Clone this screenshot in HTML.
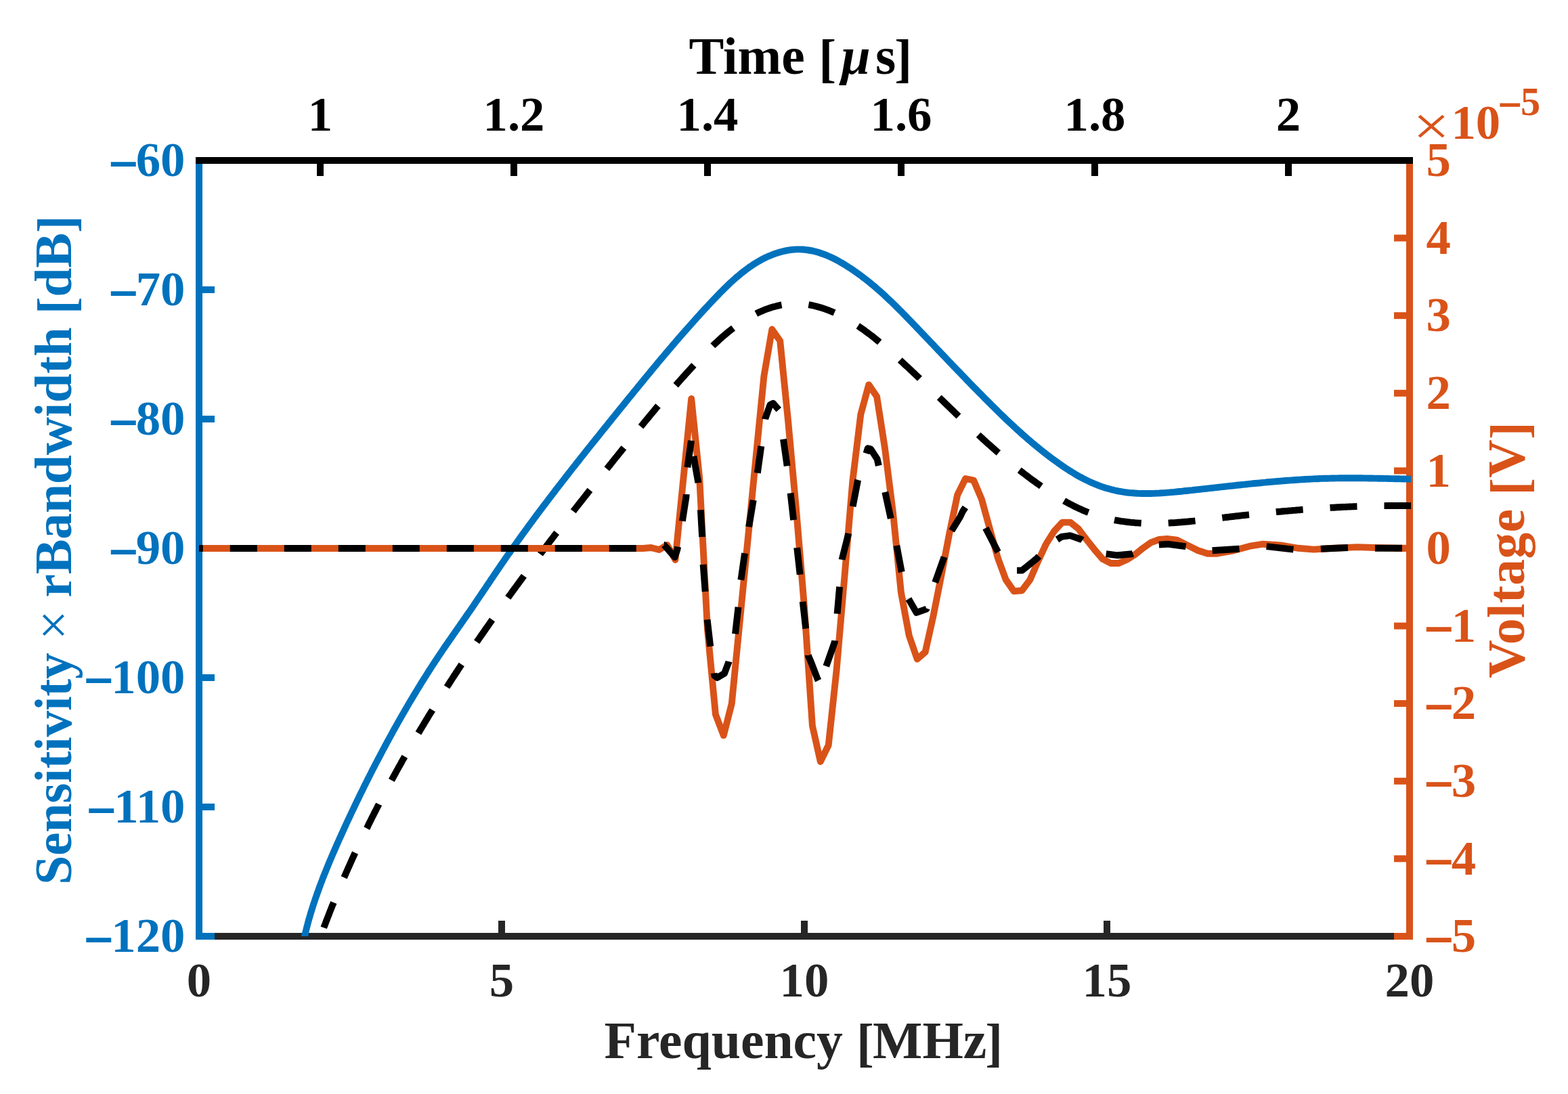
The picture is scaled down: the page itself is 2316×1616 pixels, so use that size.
<!DOCTYPE html>
<html><head><meta charset="utf-8"><title>Sensitivity and Voltage</title><style>html,body{margin:0;padding:0;background:#fff;overflow:hidden}svg{display:block}</style></head><body>
<svg width="2316" height="1616" viewBox="0 0 2316 1616">
<rect width="2316" height="1616" fill="#fff"/>
<defs><clipPath id="cf"><rect x="294.0" y="237.0" width="1790.1999999999998" height="1146.0"/></clipPath><clipPath id="ct"><rect x="294.0" y="237.0" width="1788.0" height="1146.0"/></clipPath></defs>
<g fill="#262626"><rect x="289" y="1378" width="1798" height="10"/>
<rect x="736.0" y="1360" width="10" height="28"/>
<rect x="1183.0" y="1360" width="10" height="28"/>
<rect x="1630.0" y="1360" width="10" height="28"/>
</g>
<g fill="#D95319"><rect x="2077" y="232" width="10" height="1156"/>
<rect x="2059" y="1378.0" width="28" height="10"/>
<rect x="2059" y="1263.4" width="28" height="10"/>
<rect x="2059" y="1148.8" width="28" height="10"/>
<rect x="2059" y="1034.2" width="28" height="10"/>
<rect x="2059" y="919.6" width="28" height="10"/>
<rect x="2059" y="805.0" width="28" height="10"/>
<rect x="2059" y="690.4" width="28" height="10"/>
<rect x="2059" y="575.8" width="28" height="10"/>
<rect x="2059" y="461.2" width="28" height="10"/>
<rect x="2059" y="346.6" width="28" height="10"/>
<rect x="2059" y="232.0" width="28" height="10"/>
</g>
<g fill="#0072BD"><rect x="289" y="232" width="10" height="1156"/>
<rect x="289" y="232.0" width="28" height="10"/>
<rect x="289" y="423.0" width="28" height="10"/>
<rect x="289" y="614.0" width="28" height="10"/>
<rect x="289" y="805.0" width="28" height="10"/>
<rect x="289" y="996.0" width="28" height="10"/>
<rect x="289" y="1187.0" width="28" height="10"/>
<rect x="289" y="1378.0" width="28" height="10"/>
</g>
<g clip-path="url(#cf)" fill="none" stroke-width="9.9" stroke-linejoin="round">
<path d="M446.9 1396.3 L450.0 1382.7 L450.7 1379.8 L451.4 1376.9 L452.1 1374.1 L452.8 1371.2 L453.5 1368.3 L454.3 1365.5 L455.0 1362.6 L455.8 1359.7 L456.6 1356.9 L457.5 1354.0 L458.3 1351.2 L459.1 1348.3 L460.0 1345.5 L460.9 1342.6 L461.8 1339.8 L462.7 1336.9 L463.6 1334.1 L464.6 1331.3 L465.5 1328.4 L466.5 1325.6 L467.5 1322.8 L468.5 1319.9 L469.5 1317.1 L470.5 1314.3 L471.5 1311.5 L472.6 1308.6 L473.6 1305.8 L474.7 1303.0 L475.8 1300.2 L476.8 1297.4 L477.9 1294.6 L479.0 1291.8 L480.2 1289.0 L481.3 1286.2 L482.4 1283.4 L483.6 1280.6 L484.7 1277.8 L485.9 1275.0 L487.0 1272.2 L488.2 1269.4 L489.4 1266.6 L490.6 1263.8 L491.8 1261.1 L493.0 1258.3 L494.2 1255.5 L495.4 1252.7 L496.6 1250.0 L497.8 1247.2 L499.1 1244.4 L500.3 1241.7 L501.5 1238.9 L502.8 1236.2 L504.0 1233.4 L505.3 1230.6 L506.5 1227.9 L507.8 1225.1 L509.0 1222.4 L510.3 1219.7 L511.5 1216.9 L512.8 1214.2 L514.1 1211.4 L515.4 1208.7 L516.6 1206.0 L517.9 1203.3 L519.2 1200.5 L520.5 1197.8 L521.8 1195.1 L523.1 1192.4 L524.4 1189.6 L525.7 1186.9 L527.0 1184.2 L528.3 1181.5 L529.6 1178.8 L530.9 1176.1 L532.2 1173.4 L533.5 1170.7 L534.9 1168.0 L536.2 1165.3 L537.5 1162.6 L538.8 1159.9 L540.2 1157.2 L541.5 1154.6 L542.9 1151.9 L544.2 1149.2 L545.6 1146.5 L546.9 1143.9 L548.3 1141.2 L549.6 1138.5 L551.0 1135.8 L552.4 1133.2 L553.8 1130.5 L555.1 1127.9 L556.5 1125.2 L557.9 1122.6 L559.3 1119.9 L560.7 1117.3 L562.1 1114.6 L563.5 1112.0 L564.9 1109.3 L566.3 1106.7 L567.7 1104.1 L569.1 1101.4 L570.5 1098.8 L571.9 1096.2 L573.4 1093.5 L574.8 1090.9 L576.2 1088.3 L577.7 1085.7 L579.1 1083.1 L580.5 1080.4 L582.0 1077.8 L583.4 1075.2 L584.9 1072.6 L586.4 1070.0 L587.8 1067.4 L589.3 1064.8 L590.8 1062.2 L592.2 1059.6 L593.7 1057.0 L595.2 1054.5 L596.7 1051.9 L598.2 1049.3 L599.7 1046.7 L601.2 1044.1 L602.7 1041.5 L604.2 1039.0 L605.7 1036.4 L607.3 1033.8 L608.8 1031.3 L610.3 1028.7 L611.9 1026.1 L613.4 1023.6 L615.0 1021.0 L616.5 1018.5 L618.1 1015.9 L619.7 1013.3 L621.2 1010.8 L622.8 1008.2 L624.4 1005.7 L626.0 1003.1 L627.6 1000.6 L629.2 998.1 L630.8 995.5 L632.4 993.0 L634.0 990.4 L635.7 987.9 L637.3 985.4 L638.9 982.8 L640.6 980.3 L642.2 977.8 L643.9 975.3 L645.6 972.7 L647.2 970.2 L648.9 967.7 L650.6 965.2 L652.3 962.7 L654.0 960.1 L655.7 957.6 L657.4 955.1 L659.1 952.6 L660.9 950.1 L662.6 947.6 L664.3 945.1 L666.1 942.6 L667.8 940.1 L669.5 937.6 L671.3 935.1 L673.0 932.6 L674.8 930.1 L676.5 927.6 L678.3 925.1 L680.0 922.6 L681.7 920.1 L683.5 917.6 L685.2 915.1 L687.0 912.6 L688.7 910.1 L690.4 907.6 L692.1 905.1 L693.9 902.7 L695.6 900.2 L697.3 897.7 L699.0 895.2 L700.7 892.7 L702.3 890.3 L704.0 887.8 L705.7 885.3 L707.4 882.8 L709.1 880.4 L710.7 877.9 L712.4 875.4 L714.0 873.0 L715.7 870.5 L717.4 868.0 L719.0 865.6 L720.7 863.1 L722.3 860.7 L724.0 858.2 L725.6 855.7 L727.3 853.3 L728.9 850.8 L730.6 848.4 L732.3 845.9 L733.9 843.5 L735.6 841.0 L737.3 838.6 L738.9 836.1 L740.6 833.7 L742.3 831.2 L744.0 828.8 L745.7 826.3 L747.3 823.9 L749.0 821.5 L750.7 819.0 L752.5 816.6 L754.2 814.1 L755.9 811.7 L757.6 809.3 L759.3 806.8 L761.1 804.4 L762.8 802.0 L764.5 799.5 L766.3 797.1 L768.0 794.7 L769.8 792.3 L771.5 789.8 L773.3 787.4 L775.0 785.0 L776.8 782.6 L778.6 780.1 L780.3 777.7 L782.1 775.3 L783.9 772.9 L785.7 770.5 L787.4 768.1 L789.2 765.6 L791.0 763.2 L792.8 760.8 L794.6 758.4 L796.4 756.0 L798.2 753.6 L800.0 751.2 L801.8 748.8 L803.7 746.4 L805.5 744.0 L807.3 741.6 L809.1 739.2 L810.9 736.8 L812.8 734.4 L814.6 732.0 L816.4 729.6 L818.3 727.2 L820.1 724.8 L821.9 722.4 L823.8 720.0 L825.6 717.6 L827.5 715.3 L829.3 712.9 L831.2 710.5 L833.0 708.1 L834.9 705.7 L836.7 703.3 L838.6 701.0 L840.4 698.6 L842.3 696.2 L844.2 693.8 L846.0 691.4 L847.9 689.1 L849.8 686.7 L851.6 684.3 L853.5 682.0 L855.4 679.6 L857.2 677.2 L859.1 674.9 L861.0 672.5 L862.9 670.1 L864.7 667.8 L866.6 665.4 L868.5 663.0 L870.4 660.7 L872.3 658.3 L874.1 656.0 L876.0 653.6 L877.9 651.3 L879.8 648.9 L881.7 646.6 L883.6 644.2 L885.5 641.9 L887.3 639.5 L889.2 637.2 L891.1 634.8 L893.0 632.5 L894.9 630.1 L896.8 627.8 L898.7 625.4 L900.5 623.1 L902.4 620.8 L904.3 618.4 L906.2 616.1 L908.1 613.8 L910.0 611.4 L911.9 609.1 L913.7 606.8 L915.6 604.4 L917.5 602.1 L919.4 599.8 L921.3 597.5 L923.2 595.1 L925.0 592.8 L926.9 590.5 L928.8 588.2 L930.7 585.9 L932.6 583.6 L934.5 581.2 L936.3 578.9 L938.2 576.6 L940.1 574.3 L942.0 572.0 L943.9 569.7 L945.8 567.4 L947.6 565.1 L949.5 562.8 L951.4 560.5 L953.3 558.2 L955.2 555.9 L957.1 553.6 L959.0 551.3 L960.9 549.0 L962.8 546.7 L964.7 544.4 L966.6 542.1 L968.5 539.8 L970.4 537.5 L972.3 535.2 L974.2 532.9 L976.1 530.6 L978.1 528.4 L980.0 526.1 L981.9 523.8 L983.8 521.5 L985.8 519.2 L987.7 517.0 L989.6 514.7 L991.6 512.4 L993.5 510.1 L995.5 507.9 L997.4 505.6 L999.4 503.3 L1001.3 501.1 L1003.3 498.8 L1005.3 496.5 L1007.2 494.3 L1009.2 492.0 L1011.2 489.7 L1013.2 487.5 L1015.2 485.2 L1017.2 483.0 L1019.2 480.7 L1021.2 478.5 L1023.2 476.2 L1025.2 474.0 L1027.2 471.7 L1029.2 469.5 L1031.3 467.2 L1033.3 465.0 L1035.3 462.7 L1037.4 460.5 L1039.5 458.2 L1041.5 456.0 L1043.6 453.8 L1045.7 451.5 L1047.7 449.3 L1049.8 447.1 L1051.9 444.8 L1054.0 442.6 L1056.1 440.4 L1058.3 438.2 L1060.4 436.0 L1062.5 433.8 L1064.7 431.6 L1066.8 429.4 L1069.0 427.2 L1071.2 425.1 L1073.4 422.9 L1075.6 420.8 L1077.8 418.7 L1080.0 416.7 L1082.3 414.6 L1084.5 412.6 L1086.8 410.6 L1089.1 408.6 L1091.4 406.7 L1093.7 404.7 L1096.0 402.9 L1098.4 401.0 L1100.8 399.2 L1103.2 397.4 L1105.6 395.6 L1108.0 393.9 L1110.5 392.3 L1112.9 390.6 L1115.4 389.1 L1117.9 387.5 L1120.5 386.0 L1123.0 384.6 L1125.6 383.2 L1128.2 381.8 L1130.8 380.5 L1133.5 379.3 L1136.2 378.1 L1138.9 377.0 L1141.6 375.9 L1144.3 374.9 L1147.1 373.9 L1149.9 373.1 L1152.8 372.2 L1155.6 371.5 L1158.5 370.8 L1161.4 370.2 L1164.4 369.7 L1167.3 369.2 L1170.2 368.9 L1173.2 368.6 L1176.2 368.4 L1179.1 368.4 L1182.1 368.4 L1185.1 368.5 L1188.1 368.7 L1191.1 369.1 L1194.0 369.5 L1197.0 370.0 L1199.9 370.5 L1202.9 371.2 L1205.8 372.0 L1208.7 372.8 L1211.5 373.7 L1214.4 374.7 L1217.3 375.7 L1220.1 376.8 L1222.9 378.0 L1225.7 379.2 L1228.5 380.5 L1231.2 381.8 L1234.0 383.2 L1236.7 384.7 L1239.4 386.1 L1242.0 387.7 L1244.7 389.2 L1247.3 390.8 L1249.9 392.4 L1252.5 394.1 L1255.1 395.7 L1257.7 397.4 L1260.2 399.1 L1262.7 400.9 L1265.2 402.6 L1267.6 404.4 L1270.1 406.1 L1272.5 407.9 L1274.9 409.8 L1277.3 411.6 L1279.7 413.4 L1282.0 415.3 L1284.4 417.2 L1286.7 419.1 L1289.0 421.0 L1291.3 422.9 L1293.6 424.8 L1295.8 426.8 L1298.1 428.8 L1300.3 430.7 L1302.5 432.7 L1304.7 434.7 L1306.9 436.7 L1309.1 438.8 L1311.3 440.8 L1313.4 442.8 L1315.6 444.9 L1317.8 446.9 L1319.9 449.0 L1322.0 451.1 L1324.1 453.2 L1326.3 455.3 L1328.4 457.4 L1330.5 459.5 L1332.6 461.6 L1334.7 463.8 L1336.8 465.9 L1338.8 468.0 L1340.9 470.2 L1343.0 472.3 L1345.1 474.5 L1347.2 476.6 L1349.2 478.8 L1351.3 480.9 L1353.4 483.1 L1355.4 485.3 L1357.5 487.4 L1359.6 489.6 L1361.7 491.8 L1363.7 494.0 L1365.8 496.1 L1367.9 498.3 L1370.0 500.5 L1372.0 502.7 L1374.1 504.9 L1376.2 507.0 L1378.3 509.2 L1380.3 511.4 L1382.4 513.6 L1384.5 515.8 L1386.6 518.0 L1388.7 520.2 L1390.7 522.3 L1392.8 524.5 L1394.9 526.7 L1397.0 528.9 L1399.1 531.1 L1401.2 533.3 L1403.2 535.5 L1405.3 537.6 L1407.4 539.8 L1409.5 542.0 L1411.6 544.2 L1413.7 546.4 L1415.8 548.5 L1417.9 550.7 L1420.0 552.9 L1422.1 555.1 L1424.2 557.2 L1426.3 559.4 L1428.3 561.6 L1430.4 563.7 L1432.5 565.9 L1434.6 568.1 L1436.7 570.2 L1438.9 572.4 L1441.0 574.5 L1443.1 576.7 L1445.2 578.8 L1447.3 581.0 L1449.4 583.1 L1451.5 585.2 L1453.6 587.4 L1455.7 589.5 L1457.8 591.6 L1459.9 593.7 L1462.1 595.8 L1464.2 597.9 L1466.3 600.0 L1468.4 602.1 L1470.5 604.2 L1472.7 606.3 L1474.8 608.4 L1476.9 610.5 L1479.1 612.6 L1481.2 614.6 L1483.4 616.7 L1485.5 618.8 L1487.7 620.8 L1489.8 622.9 L1492.0 624.9 L1494.2 626.9 L1496.4 629.0 L1498.6 631.0 L1500.7 633.0 L1502.9 635.0 L1505.2 637.0 L1507.4 639.0 L1509.6 641.0 L1511.8 643.0 L1514.1 644.9 L1516.3 646.9 L1518.6 648.9 L1520.8 650.8 L1523.1 652.7 L1525.4 654.7 L1527.7 656.6 L1530.0 658.5 L1532.3 660.4 L1534.7 662.3 L1537.0 664.2 L1539.4 666.1 L1541.7 668.0 L1544.1 669.8 L1546.5 671.7 L1548.9 673.5 L1551.3 675.4 L1553.8 677.2 L1556.2 679.0 L1558.7 680.8 L1561.2 682.6 L1563.7 684.4 L1566.2 686.1 L1568.7 687.9 L1571.2 689.6 L1573.8 691.3 L1576.3 693.0 L1578.9 694.7 L1581.5 696.3 L1584.1 697.9 L1586.7 699.5 L1589.3 701.1 L1591.9 702.6 L1594.6 704.1 L1597.3 705.5 L1599.9 706.9 L1602.6 708.3 L1605.3 709.6 L1608.0 710.9 L1610.7 712.2 L1613.5 713.4 L1616.2 714.6 L1619.0 715.7 L1621.8 716.8 L1624.5 717.8 L1627.3 718.8 L1630.1 719.8 L1632.9 720.7 L1635.8 721.5 L1638.6 722.3 L1641.4 723.1 L1644.3 723.8 L1647.2 724.5 L1650.0 725.1 L1652.9 725.7 L1655.8 726.2 L1658.7 726.7 L1661.6 727.1 L1664.6 727.5 L1667.5 727.8 L1670.4 728.1 L1673.4 728.3 L1676.3 728.5 L1679.3 728.7 L1682.3 728.9 L1685.2 729.0 L1688.2 729.0 L1691.2 729.0 L1694.2 729.0 L1697.2 729.0 L1700.2 729.0 L1703.2 728.9 L1706.2 728.8 L1709.2 728.6 L1712.3 728.5 L1715.3 728.3 L1718.3 728.1 L1721.3 727.9 L1724.4 727.6 L1727.4 727.4 L1730.4 727.1 L1733.5 726.9 L1736.5 726.6 L1739.5 726.3 L1742.5 726.0 L1745.6 725.7 L1748.6 725.3 L1751.6 725.0 L1754.7 724.7 L1757.7 724.4 L1760.7 724.1 L1763.7 723.7 L1766.7 723.4 L1769.7 723.1 L1772.8 722.8 L1775.8 722.4 L1778.8 722.1 L1781.8 721.8 L1784.8 721.4 L1787.8 721.1 L1790.8 720.8 L1793.8 720.4 L1796.8 720.1 L1799.8 719.8 L1802.8 719.4 L1805.8 719.1 L1808.8 718.8 L1811.8 718.4 L1814.8 718.1 L1817.8 717.8 L1820.8 717.5 L1823.8 717.1 L1826.8 716.8 L1829.7 716.5 L1832.7 716.2 L1835.7 715.9 L1838.7 715.6 L1841.7 715.3 L1844.7 714.9 L1847.6 714.6 L1850.6 714.3 L1853.6 714.0 L1856.6 713.7 L1859.6 713.5 L1862.6 713.2 L1865.5 712.9 L1868.5 712.6 L1871.5 712.3 L1874.5 712.0 L1877.4 711.8 L1880.4 711.5 L1883.4 711.3 L1886.4 711.0 L1889.4 710.8 L1892.3 710.5 L1895.3 710.3 L1898.3 710.0 L1901.3 709.8 L1904.2 709.6 L1907.2 709.4 L1910.2 709.2 L1913.2 709.0 L1916.1 708.8 L1919.1 708.6 L1922.1 708.4 L1925.1 708.2 L1928.1 708.0 L1931.0 707.9 L1934.0 707.7 L1937.0 707.6 L1940.0 707.4 L1943.0 707.3 L1945.9 707.2 L1948.9 707.0 L1951.9 706.9 L1954.9 706.8 L1957.9 706.7 L1960.9 706.7 L1963.8 706.6 L1966.8 706.5 L1969.8 706.5 L1972.8 706.4 L1975.8 706.4 L1978.8 706.3 L1981.8 706.3 L1984.8 706.3 L1987.8 706.3 L1990.8 706.2 L1993.8 706.2 L1996.8 706.2 L1999.8 706.3 L2002.8 706.3 L2005.8 706.3 L2008.8 706.3 L2011.8 706.3 L2014.8 706.4 L2017.8 706.4 L2020.8 706.5 L2023.8 706.5 L2026.8 706.5 L2029.8 706.6 L2032.9 706.6 L2035.9 706.7 L2038.9 706.8 L2041.9 706.8 L2044.9 706.9 L2048.0 706.9 L2051.0 707.0 L2054.0 707.1 L2057.1 707.1 L2060.1 707.2 L2063.1 707.3 L2066.2 707.3 L2069.2 707.4 L2072.3 707.5 L2075.3 707.5 L2078.4 707.6 L2081.4 707.6 L2084.5 707.7" stroke="#0072BD"/>
<path d="M468.6 1396.7 L473.4 1383.6 L474.4 1380.7 L475.5 1377.9 L476.5 1375.0 L477.6 1372.2 L478.6 1369.4 L479.7 1366.5 L480.8 1363.7 L481.8 1360.9 L482.9 1358.1 L484.0 1355.3 L485.1 1352.4 L486.2 1349.6 L487.3 1346.8 L488.4 1344.0 L489.5 1341.2 L490.6 1338.4 L491.8 1335.6 L492.9 1332.8 L494.0 1330.0 L495.2 1327.2 L496.3 1324.4 L497.4 1321.7 L498.6 1318.9 L499.8 1316.1 L500.9 1313.3 L502.1 1310.5 L503.3 1307.8 L504.4 1305.0 L505.6 1302.2 L506.8 1299.5 L508.0 1296.7 L509.2 1293.9 L510.4 1291.2 L511.6 1288.4 L512.8 1285.7 L514.0 1282.9 L515.3 1280.2 L516.5 1277.4 L517.7 1274.7 L518.9 1272.0 L520.2 1269.2 L521.4 1266.5 L522.7 1263.7 L523.9 1261.0 L525.2 1258.3 L526.4 1255.6 L527.7 1252.8 L529.0 1250.1 L530.3 1247.4 L531.5 1244.7 L532.8 1242.0 L534.1 1239.3 L535.4 1236.6 L536.7 1233.9 L538.0 1231.2 L539.3 1228.5 L540.6 1225.8 L542.0 1223.1 L543.3 1220.4 L544.6 1217.7 L545.9 1215.0 L547.3 1212.3 L548.6 1209.6 L549.9 1206.9 L551.3 1204.3 L552.6 1201.6 L554.0 1198.9 L555.4 1196.2 L556.7 1193.6 L558.1 1190.9 L559.5 1188.2 L560.8 1185.6 L562.2 1182.9 L563.6 1180.3 L565.0 1177.6 L566.4 1174.9 L567.8 1172.3 L569.2 1169.6 L570.6 1167.0 L572.0 1164.4 L573.4 1161.7 L574.8 1159.1 L576.3 1156.4 L577.7 1153.8 L579.1 1151.2 L580.6 1148.5 L582.0 1145.9 L583.4 1143.3 L584.9 1140.6 L586.3 1138.0 L587.8 1135.4 L589.2 1132.8 L590.7 1130.2 L592.2 1127.6 L593.6 1124.9 L595.1 1122.3 L596.6 1119.7 L598.1 1117.1 L599.6 1114.5 L601.0 1111.9 L602.5 1109.3 L604.0 1106.7 L605.5 1104.1 L607.0 1101.5 L608.5 1098.9 L610.1 1096.3 L611.6 1093.8 L613.1 1091.2 L614.6 1088.6 L616.1 1086.0 L617.7 1083.4 L619.2 1080.9 L620.7 1078.3 L622.3 1075.7 L623.8 1073.1 L625.4 1070.6 L626.9 1068.0 L628.5 1065.4 L630.0 1062.9 L631.6 1060.3 L633.1 1057.7 L634.7 1055.2 L636.3 1052.6 L637.9 1050.1 L639.4 1047.5 L641.0 1045.0 L642.6 1042.4 L644.2 1039.9 L645.8 1037.3 L647.4 1034.8 L649.0 1032.3 L650.6 1029.7 L652.2 1027.2 L653.8 1024.6 L655.4 1022.1 L657.0 1019.6 L658.6 1017.1 L660.2 1014.5 L661.9 1012.0 L663.5 1009.5 L665.1 1007.0 L666.8 1004.4 L668.4 1001.9 L670.0 999.4 L671.7 996.9 L673.3 994.4 L675.0 991.9 L676.6 989.3 L678.3 986.8 L679.9 984.3 L681.6 981.8 L683.3 979.3 L684.9 976.8 L686.6 974.3 L688.3 971.8 L689.9 969.3 L691.6 966.8 L693.3 964.3 L695.0 961.8 L696.7 959.4 L698.3 956.9 L700.0 954.4 L701.7 951.9 L703.4 949.4 L705.1 946.9 L706.8 944.5 L708.5 942.0 L710.2 939.5 L712.0 937.0 L713.7 934.6 L715.4 932.1 L717.1 929.6 L718.8 927.1 L720.6 924.7 L722.3 922.2 L724.0 919.7 L725.7 917.3 L727.5 914.8 L729.2 912.4 L731.0 909.9 L732.7 907.4 L734.4 905.0 L736.2 902.5 L737.9 900.1 L739.7 897.6 L741.4 895.2 L743.2 892.7 L745.0 890.3 L746.7 887.9 L748.5 885.4 L750.2 883.0 L752.0 880.5 L753.8 878.1 L755.6 875.6 L757.3 873.2 L759.1 870.8 L760.9 868.3 L762.7 865.9 L764.5 863.5 L766.2 861.1 L768.0 858.6 L769.8 856.2 L771.6 853.8 L773.4 851.4 L775.2 848.9 L777.0 846.5 L778.8 844.1 L780.6 841.7 L782.4 839.3 L784.2 836.8 L786.0 834.4 L787.8 832.0 L789.6 829.6 L791.5 827.2 L793.3 824.8 L795.1 822.4 L796.9 820.0 L798.7 817.6 L800.5 815.2 L802.4 812.8 L804.2 810.4 L806.0 808.0 L807.8 805.6 L809.7 803.2 L811.5 800.8 L813.3 798.4 L815.2 796.0 L817.0 793.6 L818.8 791.2 L820.7 788.8 L822.5 786.5 L824.3 784.1 L826.2 781.7 L828.0 779.3 L829.9 776.9 L831.7 774.6 L833.5 772.2 L835.4 769.8 L837.2 767.4 L839.1 765.1 L840.9 762.7 L842.8 760.3 L844.6 757.9 L846.5 755.6 L848.3 753.2 L850.2 750.8 L852.0 748.5 L853.9 746.1 L855.7 743.8 L857.6 741.4 L859.5 739.0 L861.3 736.7 L863.2 734.3 L865.0 732.0 L866.9 729.6 L868.7 727.3 L870.6 724.9 L872.5 722.6 L874.3 720.2 L876.2 717.9 L878.0 715.5 L879.9 713.2 L881.8 710.9 L883.6 708.5 L885.5 706.2 L887.3 703.8 L889.2 701.5 L891.1 699.2 L892.9 696.8 L894.8 694.5 L896.7 692.2 L898.5 689.8 L900.4 687.5 L902.3 685.2 L904.1 682.9 L906.0 680.5 L907.8 678.2 L909.7 675.9 L911.6 673.6 L913.4 671.3 L915.3 668.9 L917.2 666.6 L919.0 664.3 L920.9 662.0 L922.7 659.7 L924.6 657.4 L926.5 655.1 L928.3 652.8 L930.2 650.4 L932.0 648.1 L933.9 645.8 L935.8 643.5 L937.6 641.2 L939.5 638.9 L941.4 636.6 L943.2 634.3 L945.1 632.0 L947.0 629.7 L948.9 627.4 L950.8 625.1 L952.6 622.8 L954.5 620.6 L956.4 618.3 L958.3 616.0 L960.2 613.7 L962.1 611.4 L964.0 609.1 L965.9 606.8 L967.8 604.5 L969.7 602.2 L971.6 600.0 L973.6 597.7 L975.5 595.4 L977.4 593.1 L979.4 590.8 L981.3 588.6 L983.2 586.3 L985.2 584.0 L987.2 581.7 L989.1 579.4 L991.1 577.2 L993.1 574.9 L995.1 572.6 L997.1 570.3 L999.1 568.1 L1001.1 565.8 L1003.1 563.5 L1005.1 561.2 L1007.1 559.0 L1009.2 556.7 L1011.2 554.4 L1013.2 552.2 L1015.3 549.9 L1017.4 547.6 L1019.5 545.4 L1021.5 543.1 L1023.6 540.8 L1025.7 538.6 L1027.9 536.3 L1030.0 534.0 L1032.1 531.8 L1034.3 529.5 L1036.4 527.3 L1038.6 525.0 L1040.7 522.8 L1042.9 520.6 L1045.1 518.4 L1047.3 516.2 L1049.6 514.0 L1051.8 511.8 L1054.0 509.6 L1056.3 507.5 L1058.6 505.4 L1060.8 503.3 L1063.1 501.2 L1065.5 499.1 L1067.8 497.1 L1070.1 495.1 L1072.5 493.1 L1074.8 491.1 L1077.2 489.2 L1079.6 487.3 L1082.0 485.4 L1084.4 483.6 L1086.9 481.8 L1089.3 480.0 L1091.8 478.3 L1094.3 476.6 L1096.8 474.9 L1099.3 473.3 L1101.8 471.7 L1104.4 470.1 L1106.9 468.6 L1109.5 467.2 L1112.1 465.7 L1114.8 464.4 L1117.4 463.0 L1120.0 461.8 L1122.7 460.5 L1125.4 459.4 L1128.1 458.2 L1130.8 457.2 L1133.6 456.1 L1136.3 455.2 L1139.1 454.3 L1141.9 453.4 L1144.7 452.7 L1147.5 451.9 L1150.3 451.3 L1153.1 450.7 L1155.9 450.2 L1158.7 449.7 L1161.6 449.3 L1164.4 449.0 L1167.3 448.8 L1170.1 448.6 L1173.0 448.5 L1175.8 448.5 L1178.7 448.5 L1181.5 448.7 L1184.4 448.9 L1187.2 449.1 L1190.1 449.5 L1192.9 449.9 L1195.8 450.4 L1198.6 450.9 L1201.5 451.5 L1204.3 452.2 L1207.1 452.9 L1209.9 453.7 L1212.7 454.5 L1215.5 455.4 L1218.3 456.4 L1221.1 457.4 L1223.9 458.4 L1226.6 459.5 L1229.3 460.6 L1232.1 461.8 L1234.8 463.0 L1237.5 464.3 L1240.1 465.6 L1242.8 467.0 L1245.4 468.4 L1248.1 469.8 L1250.7 471.2 L1253.3 472.7 L1255.9 474.3 L1258.5 475.8 L1261.0 477.4 L1263.6 479.0 L1266.1 480.7 L1268.7 482.4 L1271.2 484.1 L1273.7 485.8 L1276.2 487.6 L1278.7 489.4 L1281.1 491.2 L1283.6 493.1 L1286.0 494.9 L1288.5 496.8 L1290.9 498.7 L1293.3 500.6 L1295.7 502.6 L1298.1 504.5 L1300.5 506.5 L1302.9 508.5 L1305.2 510.5 L1307.6 512.5 L1309.9 514.5 L1312.3 516.6 L1314.6 518.6 L1316.9 520.7 L1319.2 522.7 L1321.5 524.8 L1323.8 526.9 L1326.1 528.9 L1328.4 531.0 L1330.6 533.1 L1332.9 535.2 L1335.2 537.3 L1337.4 539.4 L1339.7 541.4 L1341.9 543.5 L1344.1 545.6 L1346.3 547.7 L1348.6 549.8 L1350.8 551.9 L1353.0 554.0 L1355.2 556.1 L1357.4 558.2 L1359.6 560.3 L1361.7 562.4 L1363.9 564.5 L1366.1 566.6 L1368.3 568.6 L1370.4 570.7 L1372.6 572.8 L1374.8 574.9 L1376.9 577.0 L1379.1 579.1 L1381.2 581.2 L1383.4 583.3 L1385.5 585.4 L1387.7 587.5 L1389.8 589.5 L1392.0 591.6 L1394.1 593.7 L1396.3 595.8 L1398.4 597.9 L1400.5 599.9 L1402.7 602.0 L1404.8 604.1 L1407.0 606.2 L1409.1 608.2 L1411.2 610.3 L1413.4 612.4 L1415.5 614.4 L1417.7 616.5 L1419.8 618.5 L1421.9 620.6 L1424.1 622.6 L1426.2 624.7 L1428.4 626.7 L1430.5 628.7 L1432.7 630.8 L1434.9 632.8 L1437.0 634.8 L1439.2 636.9 L1441.4 638.9 L1443.5 640.9 L1445.7 642.9 L1447.9 644.9 L1450.1 646.9 L1452.2 648.9 L1454.4 650.9 L1456.6 652.9 L1458.8 654.9 L1461.0 656.8 L1463.3 658.8 L1465.5 660.8 L1467.7 662.7 L1469.9 664.7 L1472.2 666.6 L1474.4 668.6 L1476.7 670.5 L1478.9 672.4 L1481.2 674.4 L1483.5 676.3 L1485.7 678.2 L1488.0 680.1 L1490.3 682.0 L1492.6 683.9 L1495.0 685.8 L1497.3 687.7 L1499.6 689.5 L1501.9 691.4 L1504.3 693.3 L1506.7 695.1 L1509.0 697.0 L1511.4 698.8 L1513.8 700.6 L1516.2 702.4 L1518.6 704.3 L1521.0 706.1 L1523.5 707.9 L1525.9 709.7 L1528.4 711.4 L1530.8 713.2 L1533.3 715.0 L1535.8 716.7 L1538.3 718.5 L1540.8 720.2 L1543.4 721.9 L1545.9 723.6 L1548.5 725.3 L1551.0 727.0 L1553.6 728.7 L1556.2 730.4 L1558.8 732.0 L1561.4 733.6 L1564.0 735.2 L1566.7 736.8 L1569.3 738.3 L1572.0 739.9 L1574.6 741.4 L1577.3 742.8 L1580.0 744.3 L1582.7 745.7 L1585.4 747.1 L1588.1 748.5 L1590.9 749.8 L1593.6 751.1 L1596.4 752.3 L1599.1 753.6 L1601.9 754.8 L1604.6 755.9 L1607.4 757.0 L1610.2 758.1 L1613.0 759.1 L1615.8 760.1 L1618.6 761.0 L1621.5 761.9 L1624.3 762.8 L1627.1 763.6 L1630.0 764.4 L1632.8 765.1 L1635.7 765.8 L1638.6 766.5 L1641.5 767.1 L1644.3 767.7 L1647.2 768.3 L1650.1 768.8 L1653.0 769.3 L1655.9 769.8 L1658.8 770.2 L1661.8 770.6 L1664.7 771.0 L1667.6 771.3 L1670.6 771.7 L1673.5 771.9 L1676.4 772.2 L1679.4 772.4 L1682.3 772.6 L1685.3 772.7 L1688.3 772.9 L1691.2 773.0 L1694.2 773.1 L1697.2 773.1 L1700.2 773.2 L1703.2 773.2 L1706.1 773.2 L1709.1 773.1 L1712.1 773.1 L1715.1 773.0 L1718.1 772.9 L1721.1 772.8 L1724.1 772.7 L1727.1 772.5 L1730.2 772.3 L1733.2 772.2 L1736.2 772.0 L1739.2 771.7 L1742.2 771.5 L1745.2 771.3 L1748.3 771.0 L1751.3 770.7 L1754.3 770.5 L1757.3 770.2 L1760.4 769.9 L1763.4 769.6 L1766.4 769.3 L1769.4 768.9 L1772.5 768.6 L1775.5 768.3 L1778.5 767.9 L1781.5 767.6 L1784.6 767.2 L1787.6 766.9 L1790.6 766.5 L1793.6 766.2 L1796.6 765.8 L1799.7 765.5 L1802.7 765.1 L1805.7 764.7 L1808.7 764.4 L1811.7 764.0 L1814.7 763.7 L1817.7 763.3 L1820.7 763.0 L1823.8 762.6 L1826.8 762.3 L1829.8 762.0 L1832.8 761.6 L1835.8 761.3 L1838.8 761.0 L1841.8 760.6 L1844.7 760.3 L1847.7 760.0 L1850.7 759.7 L1853.7 759.3 L1856.7 759.0 L1859.7 758.7 L1862.7 758.4 L1865.7 758.1 L1868.7 757.8 L1871.7 757.5 L1874.6 757.2 L1877.6 756.9 L1880.6 756.6 L1883.6 756.3 L1886.6 756.0 L1889.6 755.8 L1892.5 755.5 L1895.5 755.2 L1898.5 754.9 L1901.5 754.7 L1904.5 754.4 L1907.4 754.2 L1910.4 753.9 L1913.4 753.7 L1916.4 753.4 L1919.3 753.2 L1922.3 752.9 L1925.3 752.7 L1928.3 752.5 L1931.3 752.2 L1934.2 752.0 L1937.2 751.8 L1940.2 751.6 L1943.2 751.4 L1946.2 751.2 L1949.1 751.0 L1952.1 750.8 L1955.1 750.6 L1958.1 750.4 L1961.1 750.2 L1964.0 750.0 L1967.0 749.8 L1970.0 749.7 L1973.0 749.5 L1976.0 749.3 L1979.0 749.2 L1981.9 749.0 L1984.9 748.9 L1987.9 748.8 L1990.9 748.6 L1993.9 748.5 L1996.9 748.4 L1999.9 748.2 L2002.9 748.1 L2005.9 748.0 L2008.9 747.9 L2011.9 747.8 L2014.9 747.7 L2017.9 747.6 L2020.9 747.5 L2023.9 747.5 L2026.9 747.4 L2029.9 747.3 L2032.9 747.3 L2035.9 747.2 L2038.9 747.1 L2041.9 747.1 L2045.0 747.1 L2048.0 747.0 L2051.0 747.0 L2054.0 747.0 L2057.0 747.0 L2060.1 747.0 L2063.1 747.0 L2066.1 747.0 L2069.2 747.0 L2072.2 747.0 L2075.2 747.0 L2078.3 747.0 L2081.3 747.1 L2084.4 747.1" stroke="#000" stroke-dasharray="40 40" stroke-dashoffset="51.99"/>
</g>
<path clip-path="url(#ct)" d="M294.0 810.0 L949.7 810.0 L961.7 809.0 L973.6 812.0 L985.5 805.0 L997.4 827.0 L1009.3 708.0 L1021.2 589.0 L1033.1 705.0 L1045.0 930.0 L1056.9 1055.2 L1068.8 1086.4 L1080.8 1039.3 L1092.7 918.0 L1104.6 797.0 L1116.5 676.0 L1128.4 555.5 L1140.3 486.5 L1152.2 503.5 L1164.1 622.0 L1176.0 752.0 L1187.9 895.0 L1199.9 1072.0 L1211.8 1125.0 L1223.7 1100.8 L1235.6 990.0 L1247.5 851.0 L1259.4 710.0 L1271.3 612.3 L1283.2 568.4 L1295.1 585.8 L1307.0 662.0 L1319.0 757.0 L1330.9 875.0 L1342.8 939.0 L1354.7 973.5 L1366.6 963.3 L1378.5 910.0 L1390.4 850.0 L1402.3 788.0 L1414.2 731.0 L1426.1 707.0 L1438.1 709.5 L1450.0 737.6 L1461.9 781.0 L1473.8 824.0 L1485.7 856.4 L1497.6 873.4 L1509.5 872.3 L1521.4 856.4 L1533.3 828.8 L1545.2 803.4 L1557.2 784.3 L1569.1 771.6 L1581.0 771.6 L1592.9 781.1 L1604.8 797.0 L1616.7 811.9 L1628.6 825.7 L1640.5 832.0 L1652.4 832.0 L1664.3 826.7 L1676.2 819.3 L1688.2 809.7 L1700.1 801.3 L1712.0 797.0 L1723.9 796.0 L1738.3 797.6 L1752.3 804.6 L1769.7 813.3 L1783.6 817.7 L1797.6 817.7 L1822.0 813.3 L1848.1 806.3 L1865.5 803.7 L1891.6 805.5 L1917.8 809.8 L1940.4 811.6 L1970.0 809.8 L2004.9 808.1 L2031.0 809.0 L2065.9 809.8 L2082.0 809.8" fill="none" stroke="#D95319" stroke-width="9.9" stroke-linejoin="round"/>
<g fill="#000"><rect x="289" y="232" width="1798" height="10"/>
<rect x="468.0" y="232" width="10" height="28"/>
<rect x="754.0" y="232" width="10" height="28"/>
<rect x="1040.0" y="232" width="10" height="28"/>
<rect x="1326.0" y="232" width="10" height="28"/>
<rect x="1612.0" y="232" width="10" height="28"/>
<rect x="1898.0" y="232" width="10" height="28"/>
</g>
<g clip-path="url(#ct)" fill="none" stroke="#000" stroke-width="9.9" stroke-linejoin="round" stroke-dasharray="40 40">
<path d="M294.0 810.0 L339.8 810.0" stroke-dashoffset="34.20"/>
<path d="M339.8 810.0 L419.8 810.0" stroke-dashoffset="0.00"/>
<path d="M419.8 810.0 L499.8 810.0" stroke-dashoffset="0.00"/>
<path d="M499.8 810.0 L579.8 810.0" stroke-dashoffset="0.00"/>
<path d="M579.8 810.0 L659.8 810.0" stroke-dashoffset="0.00"/>
<path d="M659.8 810.0 L739.8 810.0" stroke-dashoffset="0.00"/>
<path d="M739.8 810.0 L819.8 810.0" stroke-dashoffset="0.00"/>
<path d="M819.8 810.0 L899.8 810.0" stroke-dashoffset="0.00"/>
<path d="M899.8 810.0 L969.0 810.0 L979.0 805.9" stroke-dashoffset="0.00"/>
<path d="M980.9 805.0 L981.0 805.0 L996.7 823.0 L1000.4 811.6 L1007.9 769.7" stroke-dashoffset="0.00"/>
<path d="M1007.9 769.7 L1013.5 733.8 L1015.4 690.4" stroke-dashoffset="0.00"/>
<path d="M1015.4 690.4 L1020.6 653.7 L1021.6 645.0 L1024.4 673.9" stroke-dashoffset="0.00"/>
<path d="M1024.4 673.9 L1031.1 711.3 L1034.9 753.1" stroke-dashoffset="0.00"/>
<path d="M1034.9 753.2 L1037.1 792.2 L1038.6 833.1" stroke-dashoffset="0.00"/>
<path d="M1038.6 833.9 L1041.4 870.6 L1044.5 913.7" stroke-dashoffset="0.00"/>
<path d="M1044.6 915.2 L1048.8 951.3 L1054.7 994.4" stroke-dashoffset="0.00"/>
<path d="M1054.7 994.4 L1055.2 998.0 L1059.4 1001.1 L1070.0 994.8 L1076.4 977.8 L1085.6 938.2" stroke-dashoffset="0.00"/>
<path d="M1086.0 936.4 L1090.2 899.3 L1094.4 856.9" stroke-dashoffset="0.00"/>
<path d="M1094.4 856.8 L1099.7 819.7 L1106.1 778.3" stroke-dashoffset="0.00"/>
<path d="M1106.1 778.3 L1112.5 740.1 L1118.7 699.3" stroke-dashoffset="0.00"/>
<path d="M1118.8 698.7 L1124.1 660.5 L1130.1 619.5" stroke-dashoffset="0.00"/>
<path d="M1130.1 619.2 L1130.2 618.5 L1137.5 597.9 L1142.0 595.8 L1151.0 606.0 L1156.4 644.5" stroke-dashoffset="0.00"/>
<path d="M1157.0 648.8 L1162.3 686.0 L1167.6 728.1" stroke-dashoffset="0.00"/>
<path d="M1167.6 728.4 L1171.9 766.6 L1177.1 807.8" stroke-dashoffset="0.00"/>
<path d="M1177.2 809.0 L1181.4 846.2 L1185.7 888.5" stroke-dashoffset="0.00"/>
<path d="M1185.7 888.7 L1189.9 925.8 L1193.8 968.1" stroke-dashoffset="0.00"/>
<path d="M1193.8 968.1 L1193.8 968.2 L1199.1 981.0 L1207.6 1003.2 L1211.8 1012.0 L1220.3 984.1" stroke-dashoffset="0.00"/>
<path d="M1220.3 984.1 L1233.0 948.0 L1236.6 906.6" stroke-dashoffset="0.00"/>
<path d="M1236.6 906.6 L1243.6 826.9" stroke-dashoffset="0.00"/>
<path d="M1243.6 826.7 L1243.7 826.1 L1253.2 788.4 L1259.5 748.4" stroke-dashoffset="0.00"/>
<path d="M1259.6 748.1 L1267.0 709.9 L1279.2 670.7" stroke-dashoffset="0.00"/>
<path d="M1279.5 669.8 L1281.8 662.2 L1286.0 663.2 L1295.6 678.0 L1297.8 687.6 L1307.3 726.7" stroke-dashoffset="0.00"/>
<path d="M1307.3 726.9 L1315.8 766.1 L1324.2 805.1" stroke-dashoffset="0.00"/>
<path d="M1324.4 805.8 L1331.7 844.6 L1341.8 883.9" stroke-dashoffset="0.00"/>
<path d="M1342.0 884.8 L1353.7 904.9 L1368.5 899.6 L1381.1 860.6" stroke-dashoffset="0.00"/>
<path d="M1381.2 860.4 L1394.0 824.3 L1405.5 784.2" stroke-dashoffset="0.00"/>
<path d="M1405.6 784.0 L1417.9 764.0 L1421.9 755.5 L1426.1 749.2 L1438.0 753.0 L1452.9 775.6" stroke-dashoffset="0.00"/>
<path d="M1455.8 779.9 L1473.9 814.9 L1485.7 835.0 L1501.4 842.3" stroke-dashoffset="0.00"/>
<path d="M1502.1 842.6 L1509.6 842.6 L1531.8 824.6 L1545.2 810.0 L1561.5 797.0" stroke-dashoffset="0.00"/>
<path d="M1561.5 797.0 L1567.9 792.8 L1580.6 791.1 L1597.6 797.0 L1616.7 810.0 L1633.3 818.0" stroke-dashoffset="0.00"/>
<path d="M1633.7 818.2 L1650.7 820.3 L1671.9 818.2 L1690.0 812.0 L1711.2 804.6" stroke-dashoffset="0.00"/>
<path d="M1711.8 804.6 L1724.4 803.7 L1750.5 807.2 L1790.6 813.3" stroke-dashoffset="0.00"/>
<path d="M1790.6 813.3 L1829.8 810.7 L1870.4 807.2" stroke-dashoffset="0.00"/>
<path d="M1870.7 807.2 L1910.8 811.6 L1950.4 810.7" stroke-dashoffset="0.00"/>
<path d="M1950.9 810.7 L1990.9 809.0 L2030.8 809.8" stroke-dashoffset="0.00"/>
<path d="M2031.0 809.8 L2082.0 809.8" stroke-dashoffset="0.00"/>
</g>
<g style="font-family:'Liberation Serif','Times New Roman',serif;font-weight:bold" font-size="72.8">
<g fill="#262626" text-anchor="middle">
<text x="294.0" y="1471.9">0</text>
<text x="741.0" y="1471.9">5</text>
<text x="1188.0" y="1471.9">10</text>
<text x="1635.0" y="1471.9">15</text>
<text x="2082.0" y="1471.9">20</text>
</g>
<g fill="#000" text-anchor="middle">
<text x="473.0" y="192.8">1</text>
<text x="759.0" y="192.8">1.2</text>
<text x="1045.0" y="192.8">1.4</text>
<text x="1331.0" y="192.8">1.6</text>
<text x="1617.0" y="192.8">1.8</text>
<text x="1903.0" y="192.8">2</text>
</g>
<g fill="#0072BD" text-anchor="end">
<text x="275" y="260.2"><tspan font-size="68" stroke="#0072BD" stroke-width="2" dx="-1.5" dy="-2.7">–</tspan><tspan dx="1.5" dy="2.7">60</tspan></text>
<text x="275" y="451.2"><tspan font-size="68" stroke="#0072BD" stroke-width="2" dx="-1.5" dy="-2.7">–</tspan><tspan dx="1.5" dy="2.7">70</tspan></text>
<text x="275" y="642.2"><tspan font-size="68" stroke="#0072BD" stroke-width="2" dx="-1.5" dy="-2.7">–</tspan><tspan dx="1.5" dy="2.7">80</tspan></text>
<text x="275" y="833.2"><tspan font-size="68" stroke="#0072BD" stroke-width="2" dx="-1.5" dy="-2.7">–</tspan><tspan dx="1.5" dy="2.7">90</tspan></text>
<text x="275" y="1024.2"><tspan font-size="68" stroke="#0072BD" stroke-width="2" dx="-1.5" dy="-2.7">–</tspan><tspan dx="1.5" dy="2.7">100</tspan></text>
<text x="275" y="1215.2"><tspan font-size="68" stroke="#0072BD" stroke-width="2" dx="-1.5" dy="-2.7">–</tspan><tspan dx="1.5" dy="2.7">110</tspan></text>
<text x="275" y="1406.2"><tspan font-size="68" stroke="#0072BD" stroke-width="2" dx="-1.5" dy="-2.7">–</tspan><tspan dx="1.5" dy="2.7">120</tspan></text>
</g>
<g fill="#D95319">
<text x="2106.5" y="260.2">5</text>
<text x="2106.5" y="374.8">4</text>
<text x="2106.5" y="489.4">3</text>
<text x="2106.5" y="604.0">2</text>
<text x="2106.5" y="718.6">1</text>
<text x="2106.5" y="833.2">0</text>
<text x="2109.7" y="947.8"><tspan font-size="68" stroke="#D95319" stroke-width="2" dx="-1.5" dy="-2.7">–</tspan><tspan dx="1.5" dy="2.7">1</tspan></text>
<text x="2109.7" y="1062.4"><tspan font-size="68" stroke="#D95319" stroke-width="2" dx="-1.5" dy="-2.7">–</tspan><tspan dx="1.5" dy="2.7">2</tspan></text>
<text x="2109.7" y="1177.0"><tspan font-size="68" stroke="#D95319" stroke-width="2" dx="-1.5" dy="-2.7">–</tspan><tspan dx="1.5" dy="2.7">3</tspan></text>
<text x="2109.7" y="1291.6"><tspan font-size="68" stroke="#D95319" stroke-width="2" dx="-1.5" dy="-2.7">–</tspan><tspan dx="1.5" dy="2.7">4</tspan></text>
<text x="2109.7" y="1406.2"><tspan font-size="68" stroke="#D95319" stroke-width="2" dx="-1.5" dy="-2.7">–</tspan><tspan dx="1.5" dy="2.7">5</tspan></text>
</g>
<text fill="#D95319" font-weight="normal" font-size="96" transform="translate(2087 214.4) scale(1 0.86)">×</text>
<text fill="#D95319" x="2143.4" y="205">10</text>
<text fill="#D95319" x="2216.6" y="167.9" font-size="55" stroke="#D95319" stroke-width="1.5">–</text>
<text fill="#D95319" x="2246.1" y="170.2" font-size="58.2">5</text>
</g>
<g style="font-family:'Liberation Serif','Times New Roman',serif;font-weight:bold" font-size="77.7">
<text fill="#000" y="108.8"><tspan x="1017.5">Time </tspan><tspan x="1209.25" y="112.3">[</tspan><tspan x="1242.5" y="108.8" font-style="italic">μ</tspan><tspan x="1293.1" y="108.8">s</tspan><tspan x="1321.3" y="112.3">]</tspan></text>
<text fill="#262626" y="1562.9"><tspan x="892.5">Frequency </tspan><tspan x="1265.05" y="1566.4">[</tspan><tspan x="1289.1" y="1562.9">MHz</tspan><tspan x="1455.3" y="1566.4">]</tspan></text>
<text fill="#0072BD" transform="translate(105 1307) rotate(-90)" x="0" y="0" textLength="988.8" lengthAdjust="spacing">Sensitivity <tspan font-weight="normal">×</tspan> rBandwidth <tspan dy="3.5">[</tspan><tspan dy="-3.5">dB</tspan><tspan dy="3.5">]</tspan></text>
<text fill="#D95319" transform="translate(2251.1 1001.5) rotate(-90)" x="0" y="0" textLength="378.3" lengthAdjust="spacing">Voltage <tspan dy="3.5">[</tspan><tspan dy="-3.5">V</tspan><tspan dy="3.5">]</tspan></text>
</g>
</svg>
</body></html>
